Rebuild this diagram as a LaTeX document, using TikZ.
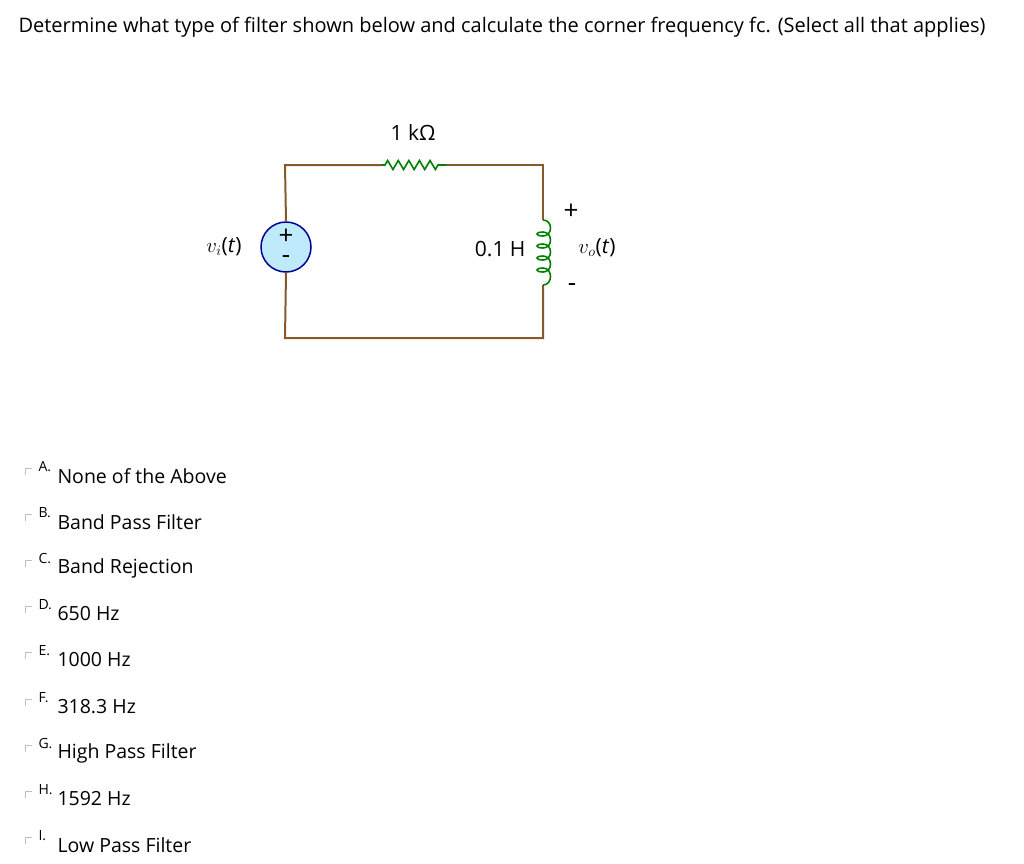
\documentclass[tikz,border=0pt]{standalone}
\usepackage{fontspec}
\setmainfont{Open Sans}
\usetikzlibrary{decorations.pathmorphing}
\begin{document}
\begin{tikzpicture}[x=1pt,y=-1pt,
  wire/.style={draw=brown!70!black,line width=2pt},
  comp/.style={draw=green!50!black,line width=1.6pt},
  opt/.style={anchor=west,font=\fontsize{19.5}{22}\selectfont},
  lett/.style={anchor=west,font=\fontsize{14}{16}\selectfont},
  lab/.style={font=\fontsize{21}{24}\selectfont},
  sgn/.style={font=\fontsize{26}{26}\selectfont,inner sep=0pt}]
\useasboundingbox (0,0) rectangle (1024,863);
\node[anchor=west,font=\fontsize{20}{24}\selectfont] (title) at (15,27) {Determine what type of filter shown below and calculate the corner frequency fc. (Select all that applies)};
% circuit
\coordinate (tl) at (285,165); \coordinate (tr) at (543,165);
\coordinate (bl) at (285,338); \coordinate (br) at (543,338);
\coordinate (r1) at (382,165); \coordinate (r2) at (446,165);
\coordinate (l1) at (543,220); \coordinate (l2) at (543,285);
\node[circle,draw=blue!60!black,fill=cyan!25,line width=1.5pt,minimum size=50pt,inner sep=0pt] (src) at (286,247) {};
\node[sgn] (sp) at (286,237) {+};
\node[sgn] (sm) at (286,260) {-};
\draw[wire] (src.north) -- (tl) -- (r1);
\draw[wire] (r2) -- (tr) -- (l1);
\draw[wire] (l2) -- (br) -- (bl) -- (src.south);
\draw[comp,decorate,decoration={zigzag,segment length=10.6pt,amplitude=4.5pt,pre length=3pt,post length=3pt}] (r1) -- (r2);
\draw[comp] (l1) .. controls (553,220) and (553,236) .. (543,236)
  .. controls (535,236) and (535,232) .. (543,232)
  .. controls (553,232) and (553,248) .. (543,248)
  .. controls (535,248) and (535,244) .. (543,244)
  .. controls (553,244) and (553,260) .. (543,260)
  .. controls (535,260) and (535,256) .. (543,256)
  .. controls (553,256) and (553,272) .. (543,272)
  .. controls (535,272) and (535,268) .. (543,268)
  .. controls (553,268) and (553,285) .. (l2);
\node[lab] (rl) at (413,133) {1 kΩ};
\node[lab,anchor=east] (ll) at (529,249) {0.1 H};
\node[lab] (vi) at (224,247) {$v_i$(\textit{t})};
\node[lab] (vo) at (597,248) {$v_o$(\textit{t})};
\node[sgn] (plus) at (571,212) {+};
\node[sgn] (minus) at (572,288) {-};
% options
\foreach \y/\l/\t [count=\i] in {476/A./None of the Above,522/B./Band Pass Filter,568/C./Band Rejection,614/D./650 Hz,660/E./1000 Hz,707/F./318.3 Hz,753/G./High Pass Filter,799/H./1592 Hz,845/I./Low Pass Filter}{
  \draw[gray!50,line width=0.8pt] (25,\y-1) -- (25,\y-8) -- (32,\y-8);
  \node[lett] (l\i) at (35,\y-9) {\l};
  \node[opt] (o\i) at (54,\y) {\t};
}
\end{tikzpicture}
\end{document}
